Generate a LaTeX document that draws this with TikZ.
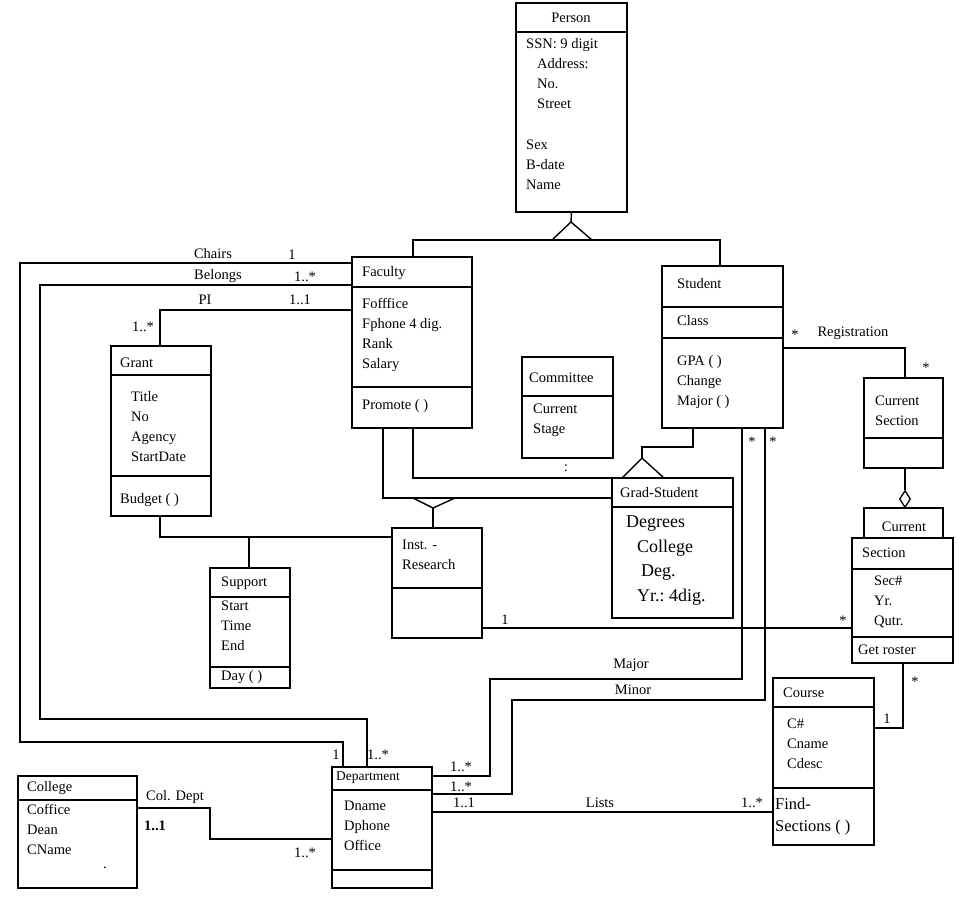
\documentclass[tikz,border=0pt]{standalone}
\usepackage{fontspec}
\setmainfont{Liberation Serif}
\usetikzlibrary{shapes.geometric}
\begin{document}
\begin{tikzpicture}[x=1pt,y=-1pt,
  box/.style={draw,line width=1.5pt,inner sep=0,outer sep=0,anchor=north west},
  dv/.style={line width=1.5pt},
  ln/.style={line width=1.4pt},
  t/.style={inner sep=0,anchor=west,font=\fontsize{14.5}{20}\selectfont},
  attr/.style={inner sep=0,anchor=north west,align=left,font=\fontsize{14.5}{20}\selectfont},
  lb/.style={inner sep=0,font=\fontsize{14.5}{20}\selectfont}]
\useasboundingbox (0,0) rectangle (960,897);
% ---------- boxes ----------
\node[box,minimum width=111pt,minimum height=209pt] (person) at (516,3) {};
\draw[dv] (516,32) -- (627,32);
\node[lb] (personT) at (571,18) {Person};
\node[attr] (personA) at (526,38) {SSN: 9 digit\\\hspace*{11pt}Address:\\\hspace*{11pt}No.\\\hspace*{11pt}Street\\[21pt]Sex\\B-date\\Name};

\node[box,minimum width=120pt,minimum height=171pt] (faculty) at (352,257) {};
\draw[line width=2.5pt] (352,287) -- (472,287);
\draw[dv] (352,387) -- (472,387);
\node[t] (facT) at (362,273) {Faculty};
\node[attr] (facA) at (362,298) {Fofffice\\Fphone 4 dig.\\Rank\\Salary};
\node[t] (facM) at (362,406) {Promote ( )};

\node[box,minimum width=121pt,minimum height=162pt] (student) at (662,266) {};
\draw[dv] (662,307) -- (783,307);
\draw[dv] (662,338) -- (783,338);
\node[t] (stuT) at (677,284) {Student};
\node[t] (stuC) at (677,321) {Class};
\node[attr] (stuA) at (677,355) {GPA ( )\\Change\\Major ( )};

\node[box,minimum width=91pt,minimum height=101pt] (committee) at (522,357) {};
\draw[dv] (522,396) -- (613,396);
\node[t] (comT) at (529,378) {Committee};
\node[attr] (comA) at (533,404) {Current\\Stage};

\node[box,minimum width=121pt,minimum height=140pt] (grad) at (612,478) {};
\draw[dv] (612,507) -- (733,507);
\node[t] (gradT) at (620,493) {Grad-Student};
\node[attr,font=\fontsize{18}{24.5}\selectfont] (gradA) at (626,516) {Degrees\\\hspace*{11pt}College\\\hspace*{15pt}Deg.\\\hspace*{11pt}Yr.:\ 4dig.};

\node[box,minimum width=100pt,minimum height=170pt] (grant) at (111,346) {};
\draw[dv] (111,375) -- (211,375);
\draw[dv] (111,476) -- (211,476);
\node[t] (grantT) at (120,363) {Grant};
\node[attr] (grantA) at (131,391) {Title\\No\\Agency\\StartDate};
\node[t] (grantM) at (120,500) {Budget ( )};

\node[box,minimum width=90pt,minimum height=110pt] (inst) at (392,528) {};
\draw[dv] (392,588) -- (482,588);
\node[attr] (instT) at (402,540) {Inst. -\\Research};

\node[box,minimum width=80pt,minimum height=120pt] (support) at (210,568) {};
\draw[dv] (210,597) -- (290,597);
\draw[dv] (210,667) -- (290,667);
\node[t] (supT) at (221,583) {Support};
\node[attr] (supA) at (221,601) {Start\\Time\\End};
\node[t] (supM) at (221,677) {Day ( )};

\node[box,minimum width=100pt,minimum height=121pt] (dept) at (332,767) {};
\draw[dv] (332,790) -- (432,790);
\draw[dv] (332,870) -- (432,870);
\node[t,font=\fontsize{13.5}{20}\selectfont] (deptT) at (336,778) {Department};
\node[attr] (deptA) at (344,801) {Dname\\Dphone\\Office};

\node[box,minimum width=119pt,minimum height=112pt] (college) at (18,776) {};
\draw[dv] (18,800) -- (137,800);
\node[t] (colT) at (27,788) {College};
\node[attr] (colA) at (27,804) {Coffice\\Dean\\CName};
\node[lb] (colDot) at (105,868) {.};

\node[box,minimum width=101pt,minimum height=167pt] (course) at (773,678) {};
\draw[dv] (773,707) -- (874,707);
\draw[dv] (773,788) -- (874,788);
\node[t] (crsT) at (783,693) {Course};
\node[attr] (crsA) at (787,719) {C\#\\Cname\\Cdesc};
\node[attr,font=\fontsize{16.5}{22}\selectfont] (crsM) at (775,798) {Find-\\Sections ( )};

\node[box,minimum width=79pt,minimum height=90pt] (cursec) at (864,378) {};
\draw[dv] (864,438) -- (943,438);
\node[attr] (cursecT) at (875,396) {Current\\Section};

\node[box,minimum width=79pt,minimum height=32pt] (curr) at (864,508) {};
\node[lb] (currT) at (904,527) {Current};
\node[box,fill=white,minimum width=101pt,minimum height=125pt] (section) at (852,538) {};
\draw[dv] (852,569) -- (953,569);
\draw[dv] (852,637) -- (953,637);
\node[t] (secT) at (862,553) {Section};
\node[attr] (secA) at (874,576) {Sec\#\\Yr.\\Qutr.};
\node[t] (secM) at (858,650) {Get roster};

\node[diamond,draw,line width=1.3pt,fill=white,inner sep=0,minimum width=11pt,minimum height=17pt] (agg) at (905,499) {};
% ---------- generalizations ----------
\draw[ln] (person.south) -- (571,222);
\draw[ln] (552,240) -- (571,222) -- (592,240);
\draw[ln] (faculty.north -| 413,0) -- (413,240) -- (720,240) -- (student.north -| 720,0);
\draw[ln] (693,428) -- (693,447) -- (642,447) -- (642,458);
\draw[ln] (622,478) -- (642,458) -- (664,478);
\draw[ln] (413,428) -- (413,478) -- (622,478);
\draw[ln] (383,428) -- (383,498) -- (grad.west |- 0,498);
\draw[ln] (413,498) -- (433,508) -- (455,498);
\draw[ln] (433,508) -- (inst.north -| 433,0);
\node[lb] (comDots) at (566,468) {:};
% ---------- associations ----------
\draw[ln] (faculty.west |- 0,263) -- (20,263) -- (20,742) -- (343,742) -- (dept.north -| 343,0);
\draw[line width=2.2pt] (faculty.west |- 0,285) -- (40,285) -- (40,719) -- (367,719) -- (dept.north -| 367,0);
\draw[ln] (faculty.west |- 0,310) -- (160,310) -- (grant.north -| 160,0);
\draw[ln] (grant.south -| 160,0) -- (160,537) -- (inst.west |- 0,537);
\draw[ln] (249,537) -- (support.north -| 249,0);
\draw[ln] (inst.east |- 0,628) -- (section.west |- 0,628);
\draw[ln] (dept.east |- 0,776) -- (490,776) -- (490,679) -- (742,679) -- (student.south -| 742,0);
\draw[ln] (dept.east |- 0,794) -- (512,794) -- (512,700) -- (765,700) -- (student.south -| 765,0);
\draw[ln] (dept.east |- 0,812) -- (course.west |- 0,812);
\draw[ln] (college.east |- 0,808) -- (210,808) -- (210,839) -- (dept.west |- 0,839);
\draw[ln] (student.east |- 0,348) -- (905,348) -- (cursec.north -| 905,0);
\draw[ln] (cursec.south -| 905,0) -- (agg.north);
\draw[ln] (agg.south) -- (curr.north -| 905,0);
\draw[ln] (section.south -| 903,0) -- (903,728) -- (course.east |- 0,728);
% ---------- labels ----------
\node[lb] (lChairs) at (213,254) {Chairs};
\node[lb] (lC1) at (292,255) {1};
\node[lb] (lBel) at (218,276) {Belongs};
\node[lb] (lB1) at (305,277) {1..*};
\node[lb] (lPI) at (205,300) {PI};
\node[lb] (lP1) at (300,300) {1..1};
\node[lb] (lP2) at (143,327) {1..*};
\node[lb] (lI1) at (505,620) {1};
\node[lb] (lS1) at (843,621) {*};
\node[lb] (lD1) at (336,755) {1};
\node[lb] (lD2) at (378,755) {1..*};
\node[lb] (lMaj) at (631,665) {Major};
\node[lb] (lMin) at (633,690) {Minor};
\node[lb] (lM1) at (461,767) {1..*};
\node[lb] (lM2) at (461,787) {1..*};
\node[lb] (lL1) at (464,803) {1..1};
\node[lb] (lLists) at (600,803) {Lists};
\node[lb] (lL2) at (752,803) {1..*};
\node[lb] (lSt1) at (752,442) {*};
\node[lb] (lSt2) at (773,442) {*};
\node[lb] (lR1) at (795,335) {*};
\node[lb] (lReg) at (853,333) {Registration};
\node[lb] (lR2) at (926,368) {*};
\node[lb] (lSc1) at (915,682) {*};
\node[lb] (lSc2) at (887,719) {1};
\node[lb] (lCD) at (175,797) {Col. Dept};
\node[lb,font=\bfseries\fontsize{14.5}{20}\selectfont] (lCD1) at (155,826) {1..1};
\node[lb] (lCD2) at (305,853) {1..*};
\end{tikzpicture}
\end{document}
